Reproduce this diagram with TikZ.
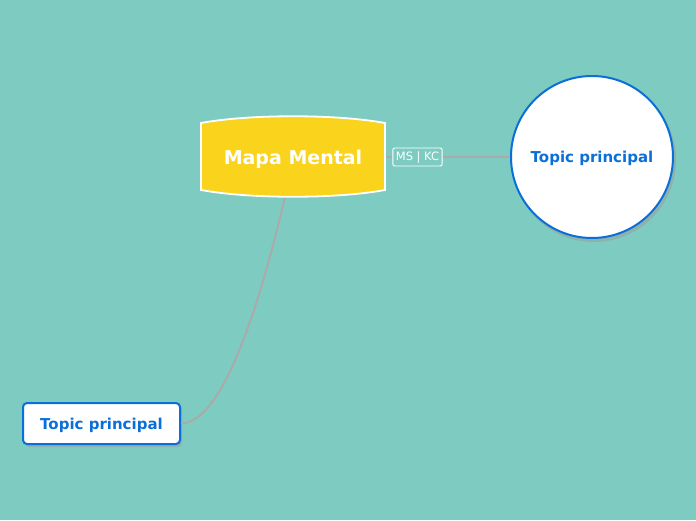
\documentclass[tikz,border=0pt]{standalone}
\usepackage{fontspec}
\setmainfont{DejaVu Sans}
\definecolor{bg}{HTML}{7ECCC1}
\definecolor{yel}{HTML}{FAD31C}
\definecolor{blu}{HTML}{0A6FD8}
\definecolor{lin}{HTML}{AAAAAA}
\tikzset{topic/.style={font=\bfseries\fontsize{15}{17}\selectfont, text=blu},
 conn/.style={draw=lin, line width=1.2pt}}
\begin{document}
\begin{tikzpicture}[x=1pt,y=-1pt]
\fill[bg] (0,0) rectangle (696,520);
\useasboundingbox (0,0) rectangle (696,520);
\coordinate (cb) at (285,197);
\coordinate (cr) at (385,157);
\node[draw=white, rounded corners=2pt, inner xsep=3pt, inner ysep=2pt, minimum height=18pt, text=white, font=\fontsize{11.5}{13}\selectfont, line width=0.9pt] (lab) at (417.5,157) {MS | KC};
\node[circle, minimum size=164pt, fill=black!40, opacity=0.5] at (594,160) {};
\node[circle, draw=blu, fill=white, line width=2pt, minimum size=162pt, inner sep=0pt, topic] (c) at (592,157) {};
\node[topic] at (592,158.5) {Topic principal};
\fill[black!40, opacity=0.5, rounded corners=4pt] (25,405) rectangle (182,447);
\node[draw=blu, fill=white, line width=2pt, rounded corners=4pt, minimum width=157pt, minimum height=41pt, inner sep=0pt, topic] (b) at (101.5,423.5) {};
\node[topic] at (101.5,425) {Topic principal};
\draw[conn] (cr) -- (lab.west);
\draw[conn] (lab.east) -- (c.west);
\draw[draw=lin, line width=2pt] (cb) .. controls (270,260) and (230,423) .. (b.east);
\draw[fill=yel, draw=white, line width=1.8pt] (201,123) .. controls (250,114) and (336,114) .. (385,123) -- (385,190) .. controls (336,199) and (250,199) .. (201,190) -- cycle;
\node[text=white, font=\bfseries\fontsize{19}{21}\selectfont] (m) at (293,159) {Mapa Mental};
\end{tikzpicture}
\end{document}
